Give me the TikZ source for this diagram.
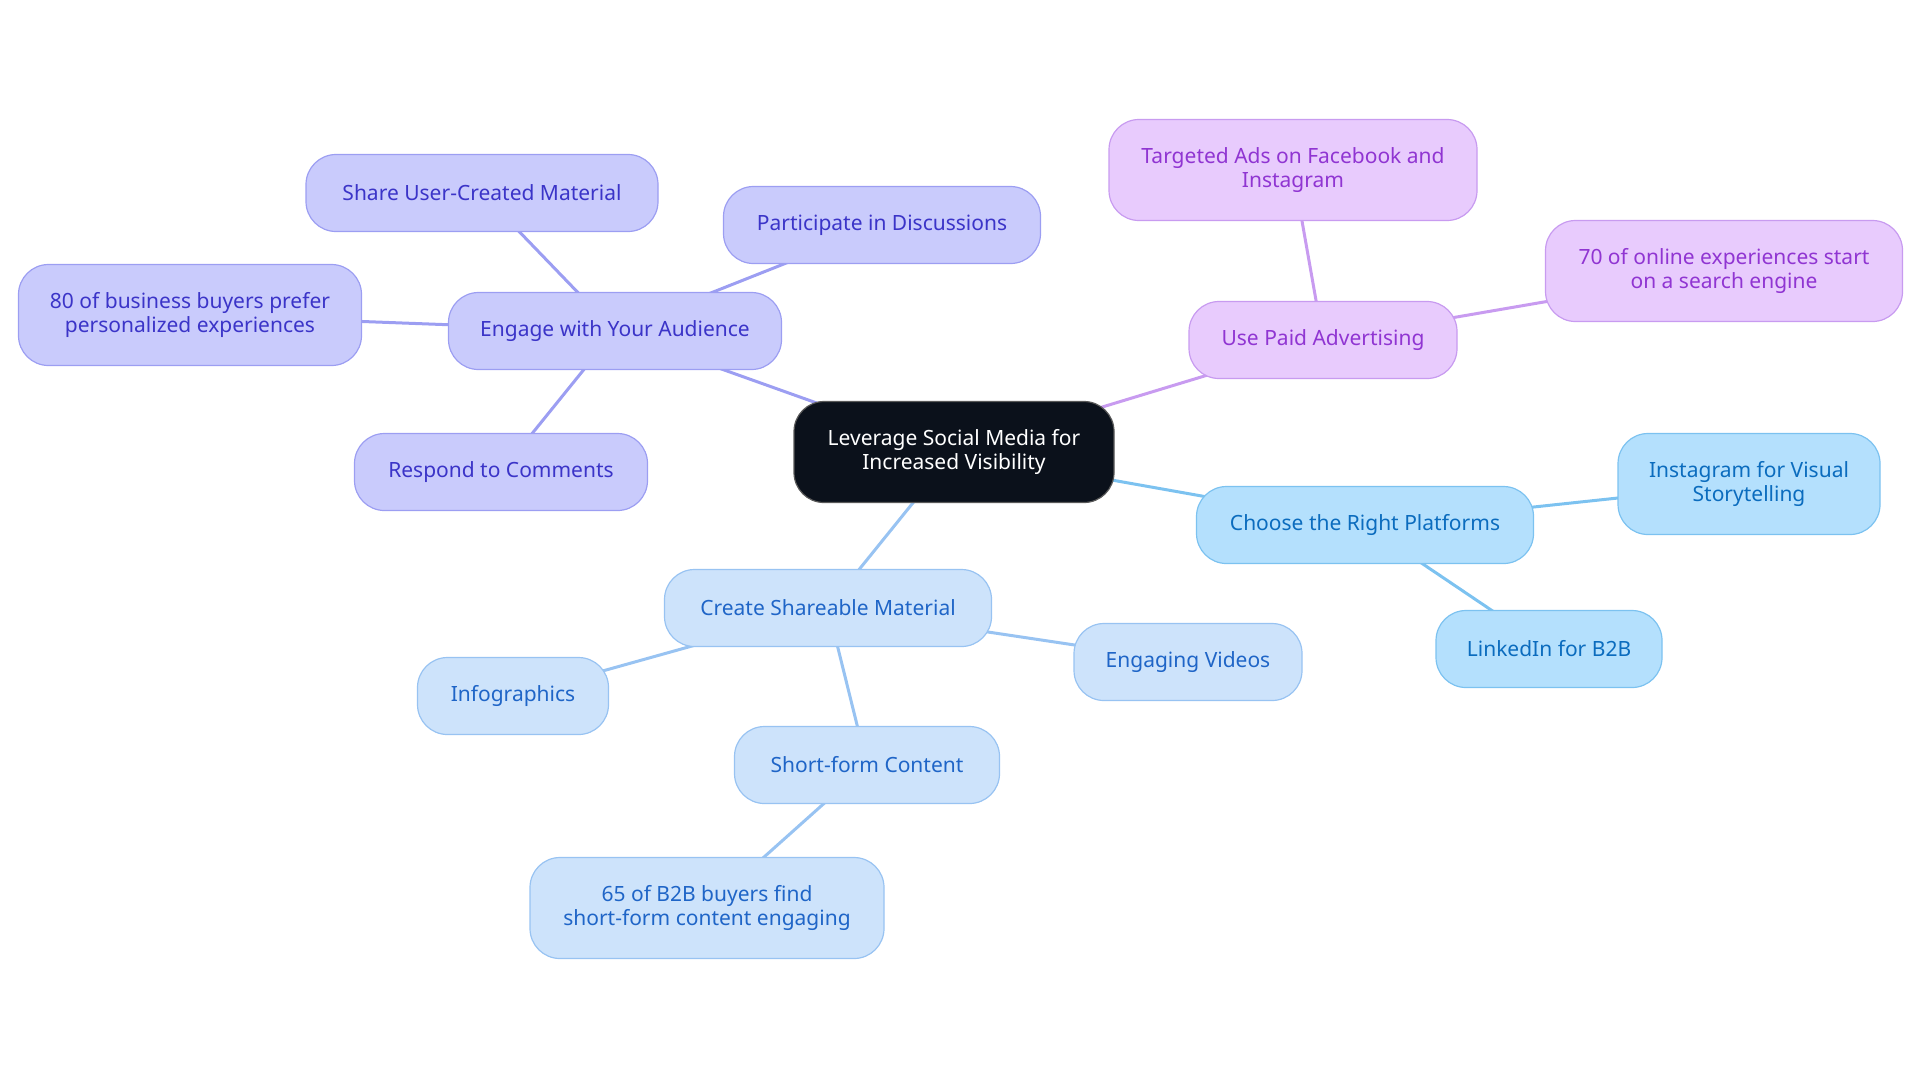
\documentclass[tikz,border=0pt]{standalone}
\usepackage{fontspec}
\setmainfont{Noto Sans}
\usetikzlibrary{positioning,backgrounds}
\definecolor{rootfill}{HTML}{0B111B}
\definecolor{engfill}{HTML}{C9CBFC}
\definecolor{engline}{HTML}{9C9EF2}
\definecolor{engtext}{HTML}{3B34C8}
\definecolor{adfill}{HTML}{E8CBFD}
\definecolor{adline}{HTML}{C89BF0}
\definecolor{adtext}{HTML}{9035D2}
\definecolor{platfill}{HTML}{B4E0FD}
\definecolor{platline}{HTML}{7CC2F0}
\definecolor{plattext}{HTML}{0B6CBE}
\definecolor{sharefill}{HTML}{CDE3FB}
\definecolor{shareline}{HTML}{98C3F2}
\definecolor{sharetext}{HTML}{1F65C7}
\tikzstyle{topic}=[rounded corners=15pt,minimum height=38.5pt,align=center,inner sep=2pt,line width=0.6pt,font=\fontsize{10.5}{12.3}\selectfont]
\tikzstyle{tall}=[minimum height=50.5pt]
\tikzstyle{root}=[topic,draw=gray!70!black,fill=rootfill,text=white]
\tikzstyle{engage}=[topic,draw=engline,fill=engfill,text=engtext]
\tikzstyle{advert}=[topic,draw=adline,fill=adfill,text=adtext]
\tikzstyle{platform}=[topic,draw=platline,fill=platfill,text=plattext]
\tikzstyle{share}=[topic,draw=shareline,fill=sharefill,text=sharetext]
\tikzstyle{link}=[line width=1.5pt]

\begin{document}
\begin{tikzpicture}[x=0.5pt,y=-0.5pt]
    \useasboundingbox (0,0) rectangle (1920,1083);

    % centre
    \node[root, tall, minimum width=160pt] (root) at (954,452) {Leverage Social Media for\\Increased Visibility};

    % engage branch
    \node[engage, minimum width=166.5pt] (engage) at (615,331) {Engage with Your Audience};
    \node[engage, minimum width=176pt] (usercontent) at (482,193) {Share User-Created Material};
    \node[engage, minimum width=158.5pt] (discuss) at (882,225) {Participate in Discussions};
    \node[engage, tall, minimum width=171.5pt] (buyers) at (190,315) {80 of business buyers prefer\\personalized experiences};
    \node[engage, minimum width=146.5pt] (comments) at (501,472) {Respond to Comments};

    % paid advertising branch
    \node[advert, minimum width=134pt] (paid) at (1323,340) {Use Paid Advertising};
    \node[advert, tall, minimum width=184pt] (targeted) at (1293,170) {Targeted Ads on Facebook and\\Instagram};
    \node[advert, tall, minimum width=178.5pt] (search) at (1724,271) {70 of online experiences start\\on a search engine};

    % platforms branch
    \node[platform, minimum width=168.5pt] (platforms) at (1365,525) {Choose the Right Platforms};
    \node[platform, tall, minimum width=131pt] (instagram) at (1749,484) {Instagram for Visual\\Storytelling};
    \node[platform, minimum width=113pt] (linkedin) at (1549,649) {LinkedIn for B2B};

    % shareable material branch
    \node[share, minimum width=163.5pt] (shareable) at (828,608) {Create Shareable Material};
    \node[share, minimum width=95.5pt] (infographics) at (513,696) {Infographics};
    \node[share, minimum width=114pt] (videos) at (1188,662) {Engaging Videos};
    \node[share, minimum width=132.5pt] (shortform) at (867,765) {Short-form Content};
    \node[share, tall, minimum width=177pt] (engaging) at (707,908) {65 of B2B buyers find\\short-form content engaging};

    \begin{scope}[on background layer]
        \draw[link, engline] (root.center) -- (engage.center);
        \draw[link, engline] (engage.center) -- (usercontent.center);
        \draw[link, engline] (engage.center) -- (discuss.center);
        \draw[link, engline] (engage.center) -- (buyers.center);
        \draw[link, engline] (engage.center) -- (comments.center);
        \draw[link, adline] (root.center) -- (paid.center);
        \draw[link, adline] (paid.center) -- (targeted.center);
        \draw[link, adline] (paid.center) -- (search.center);
        \draw[link, platline] (root.center) -- (platforms.center);
        \draw[link, platline] (platforms.center) -- (instagram.center);
        \draw[link, platline] (platforms.center) -- (linkedin.center);
        \draw[link, shareline] (root.center) -- (shareable.center);
        \draw[link, shareline] (shareable.center) -- (infographics.center);
        \draw[link, shareline] (shareable.center) -- (videos.center);
        \draw[link, shareline] (shareable.center) -- (shortform.center);
        \draw[link, shareline] (shortform.center) -- (engaging.center);
    \end{scope}
\end{tikzpicture}
\end{document}
